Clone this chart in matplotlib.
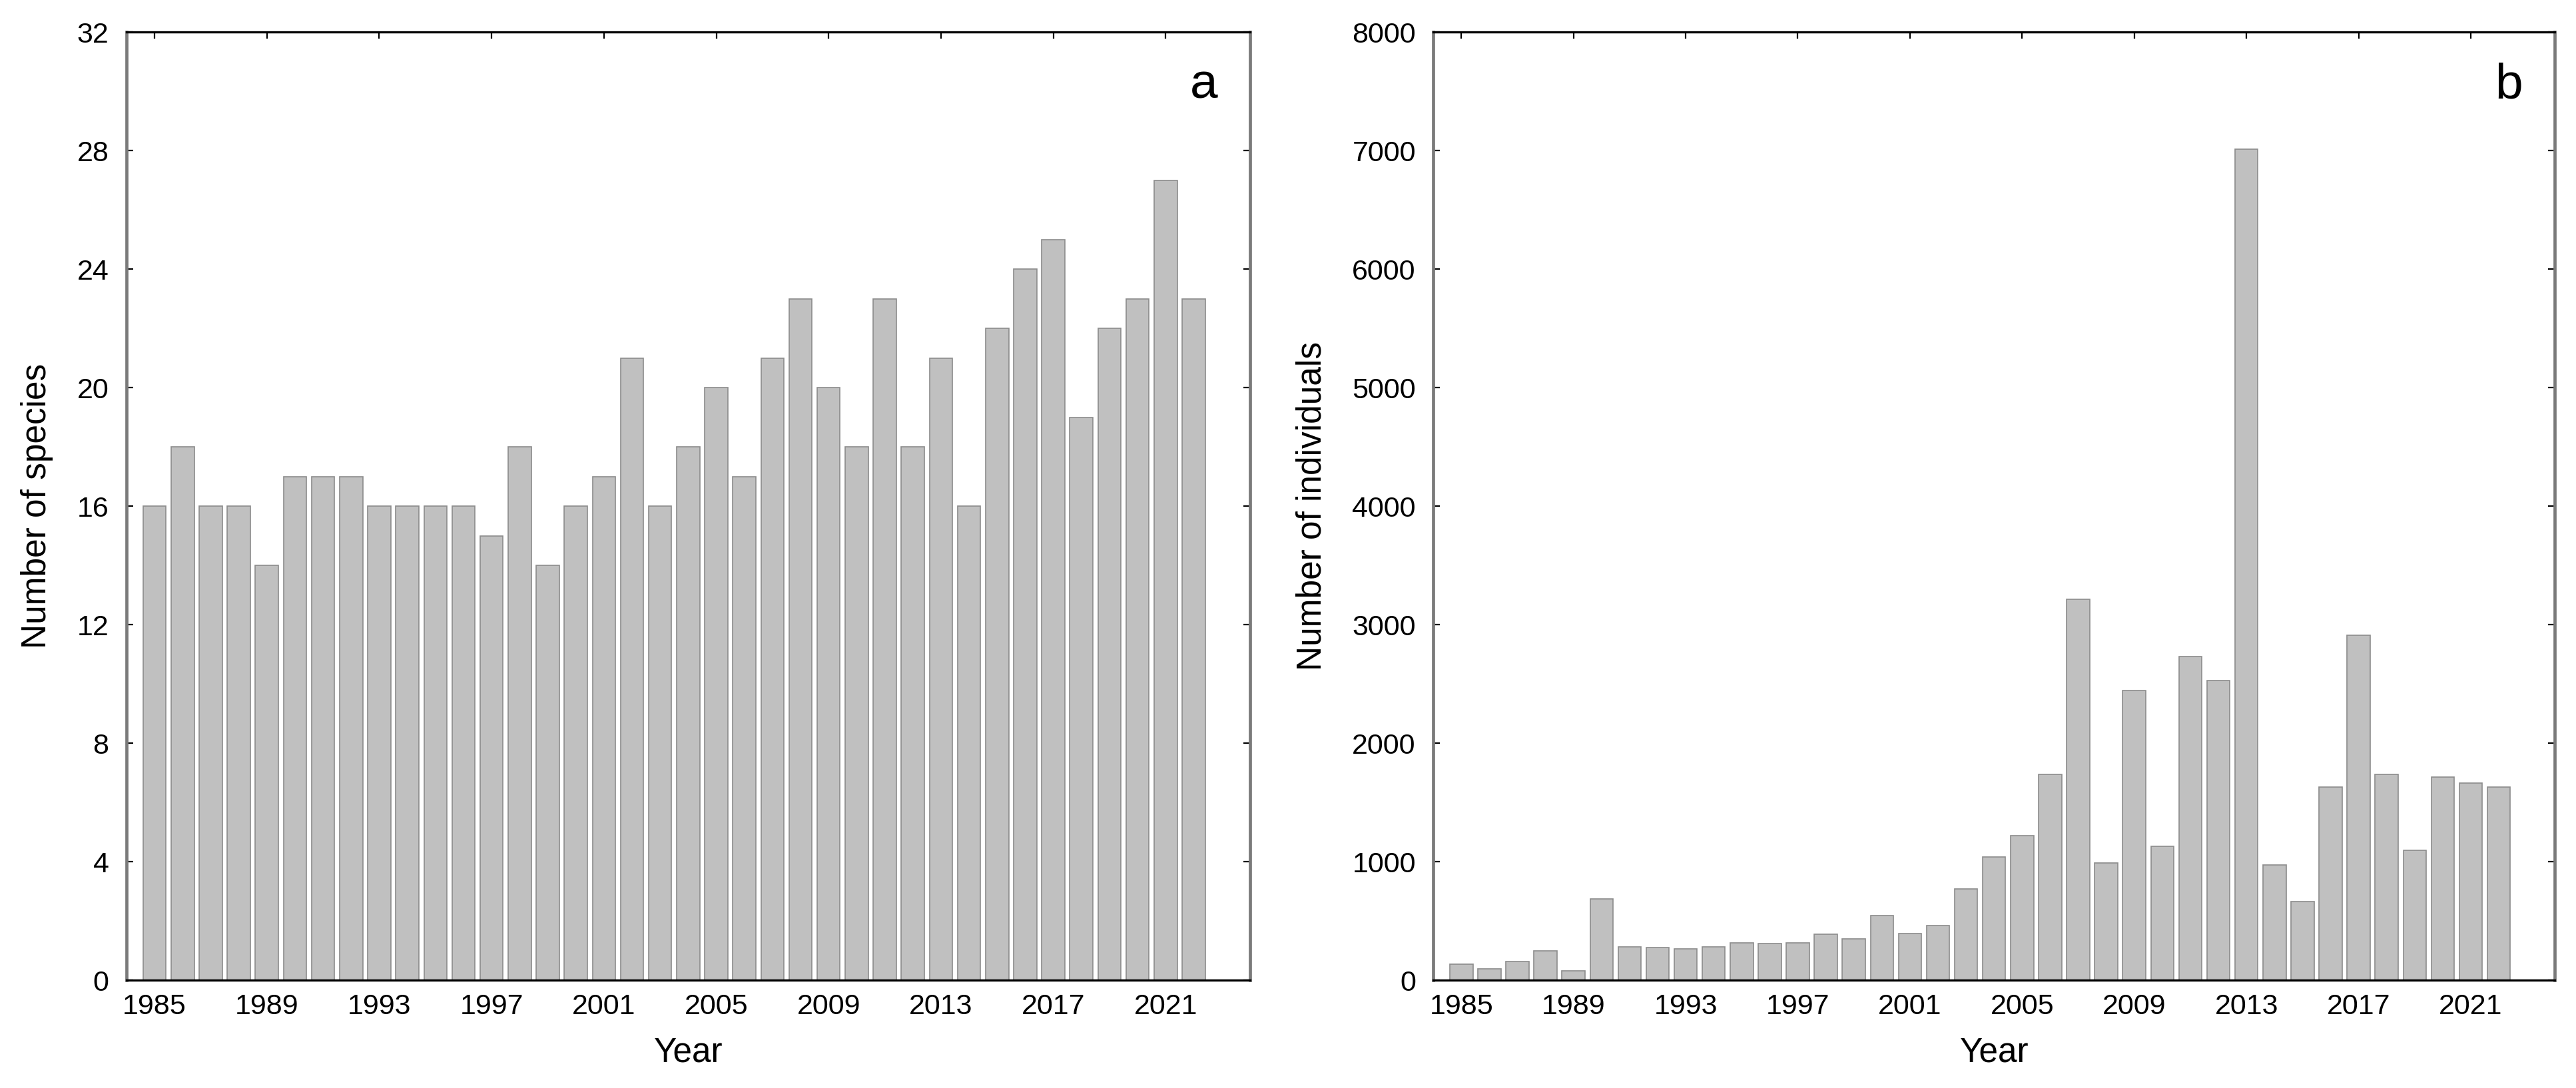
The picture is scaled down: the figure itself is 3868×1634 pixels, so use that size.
import matplotlib
matplotlib.use("Agg")
import matplotlib.pyplot as plt

plt.rcParams['font.family'] = ['Liberation Sans', 'DejaVu Sans']

years = list(range(1985, 2023))
species = [16, 18, 16, 16, 14, 17, 17, 17, 16, 16, 16, 16, 15, 18, 14, 16, 17, 21, 16, 18,
           20, 17, 21, 23, 20, 18, 23, 18, 21, 16, 22, 24, 25, 19, 22, 23, 27, 23]
individuals = [135, 95, 155, 245, 80, 685, 280, 275, 262, 282, 315, 312, 315, 390, 350, 545,
               395, 460, 772, 1040, 1218, 1737, 3212, 990, 2442, 1130, 2732, 2530, 7010, 970,
               665, 1628, 2912, 1737, 1098, 1712, 1665, 1628]
xticks = [1985, 1989, 1993, 1997, 2001, 2005, 2009, 2013, 2017, 2021]
yticks_a = [0, 4, 8, 12, 16, 20, 24, 28, 32]
yticks_b = [0, 1000, 2000, 3000, 4000, 5000, 6000, 7000, 8000]

fig = plt.figure(figsize=(38.68, 16.34), dpi=100)
ax1 = fig.add_axes([0.0491, 0.0991, 0.4361, 0.8715])
ax2 = fig.add_axes([0.5564, 0.0991, 0.4354, 0.8715])

panels = [
    (ax1, species, yticks_a, 'Number of species', 'a'),
    (ax2, individuals, yticks_b, 'Number of individuals', 'b'),
]

for ax, vals, yt, ylab, letter in panels:
    ax.bar(years, vals, width=0.82, color='#c0c0c0', edgecolor='#8c8c8c', linewidth=1.2, zorder=2)
    ax.set_xlim(1984, 2024)
    ax.set_ylim(yt[0], yt[-1])
    ax.set_xticks(xticks)
    ax.set_yticks(yt)
    ax.tick_params(axis='both', which='both', direction='in', length=7, width=1.6,
                   color='black', labelsize=31, top=True, right=True)
    ax.tick_params(axis='x', pad=14)
    ax.tick_params(axis='y', pad=19)
    for s in ('top', 'bottom'):
        ax.spines[s].set_color('black')
        ax.spines[s].set_linewidth(2.4)
    for s in ('left', 'right'):
        ax.spines[s].set_color('#7a7a7a')
        ax.spines[s].set_linewidth(3.4)
    ax.set_xlabel('Year', fontsize=37, labelpad=18)
    ax.set_ylabel(ylab, fontsize=37, labelpad=26)
    ax.text(0.959, 0.944, letter, transform=ax.transAxes, fontsize=54,
            ha='center', va='center')

fig.savefig('out.png', dpi=100, facecolor='white')
